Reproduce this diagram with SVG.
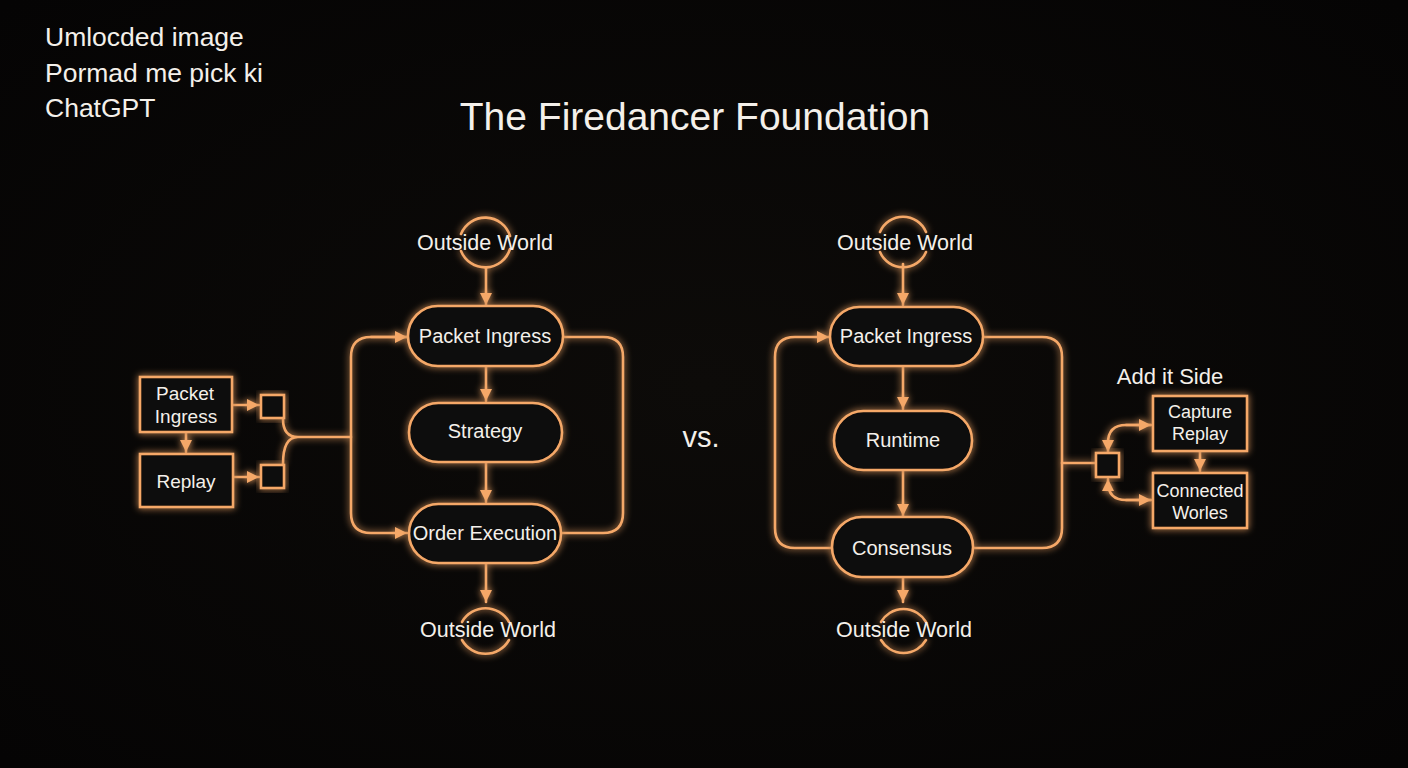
<svg xmlns="http://www.w3.org/2000/svg" width="1408" height="768" viewBox="0 0 1408 768">
  <defs>
    <style>
      .ln{fill:none;stroke:#f5a868;stroke-width:2.6;stroke-linecap:round;stroke-linejoin:round}
      .nd{fill:#0d0a08;stroke:#f5a868;stroke-width:2.6}
      .t{font-family:"Liberation Sans",Arial,sans-serif;fill:#f4f0ea;text-anchor:middle}
      .lbl{font-size:20px}
      .ow{font-size:21.5px}
      .sm{font-size:19px}
      .xs{font-size:18px}
    </style>
    <filter id="glow" x="-20%" y="-20%" width="140%" height="140%">
      <feGaussianBlur in="SourceGraphic" stdDeviation="3.5" result="b"/>
      <feMerge><feMergeNode in="b"/><feMergeNode in="SourceGraphic"/></feMerge>
    </filter>
    <marker id="ah" viewBox="0 0 10 10" refX="10" refY="5" markerWidth="12" markerHeight="12" markerUnits="userSpaceOnUse" orient="auto">
      <path d="M0,0 L10,5 L0,10 z" fill="#f5a868"/>
    </marker>
    <radialGradient id="bg" cx="50%" cy="50%" r="70%">
      <stop offset="0" stop-color="#0d0b09"/>
      <stop offset="1" stop-color="#050404"/>
    </radialGradient>
  </defs>
  <rect width="1408" height="768" fill="url(#bg)"/>

  <g id="header" class="t" style="text-anchor:start;font-size:26.5px">
    <text x="45" y="46">Umlocded image</text>
    <text x="45" y="82">Pormad me pick ki</text>
    <text x="45" y="117">ChatGPT</text>
  </g>
  <text id="title" class="t" x="695" y="130" style="font-size:39px">The Firedancer Foundation</text>
  <text id="vs" class="t" x="701" y="447" style="font-size:29px">vs.</text>
  <text id="add-side" class="t" x="1170" y="384" style="font-size:22px">Add it Side</text>

  <g id="connectors" filter="url(#glow)">
    <!-- left diagram -->
    <path class="ln" d="M486,268 L486,305" marker-end="url(#ah)"/>
    <path class="ln" d="M486,366 L486,401" marker-end="url(#ah)"/>
    <path class="ln" d="M486,462 L486,502" marker-end="url(#ah)"/>
    <path class="ln" d="M486,563 L486,602" marker-end="url(#ah)"/>
    <path class="ln" d="M407,337 L371,337 Q351,337 351,357 L351,513 Q351,533 371,533 L407,533" marker-end="url(#ah)"/>
    <path class="ln" d="M371,337 L407,337" marker-end="url(#ah)"/>
    <path class="ln" d="M563,337 L603,337 Q623,337 623,357 L623,513 Q623,533 603,533 L561,533"/>
    <path class="ln" d="M186,432 L186,452" marker-end="url(#ah)"/>
    <path class="ln" d="M233,405 L259,405" marker-end="url(#ah)"/>
    <path class="ln" d="M233,477 L259,477" marker-end="url(#ah)"/>
    <path class="ln" d="M283,419 Q283,437 298,437 M283,464 Q283,437 298,437 L351,437"/>
    <!-- right diagram -->
    <path class="ln" d="M903,264 L903,305" marker-end="url(#ah)"/>
    <path class="ln" d="M903,366 L903,409" marker-end="url(#ah)"/>
    <path class="ln" d="M903,470 L903,516" marker-end="url(#ah)"/>
    <path class="ln" d="M903,577 L903,602" marker-end="url(#ah)"/>
    <path class="ln" d="M832,548 L795,548 Q775,548 775,528 L775,357 Q775,337 795,337 L829,337" marker-end="url(#ah)"/>
    <path class="ln" d="M983,337 L1042,337 Q1062,337 1062,357 L1062,528 Q1062,548 1042,548 L973,548"/>
    <path class="ln" d="M1062,463 L1095,463"/>
    <path class="ln" d="M1151,425 L1126,425 Q1108,425 1108,443 L1108,452" marker-end="url(#ah)"/>
    <path class="ln" d="M1126,425 L1151,425" marker-end="url(#ah)"/>
    <path class="ln" d="M1151,500 L1126,500 Q1108,500 1108,482 L1108,479" marker-end="url(#ah)"/>
    <path class="ln" d="M1126,500 L1151,500" marker-end="url(#ah)"/>
    <path class="ln" d="M1200,451 L1200,471" marker-end="url(#ah)"/>
  </g>

  <!-- left diagram nodes -->
  <g id="l-outside-top">
    <path class="ln" filter="url(#glow)" d="M461,234 A26,26 0 0 1 510,236 M461,251 A26,26 0 0 0 510,249"/>
    <text class="t ow" x="485" y="250">Outside World</text>
  </g>
  <g id="l-packet-ingress">
    <rect class="nd" filter="url(#glow)" x="408" y="306" width="155" height="60" rx="30"/>
    <text class="t lbl" x="485" y="343">Packet Ingress</text>
  </g>
  <g id="l-strategy">
    <rect class="nd" filter="url(#glow)" x="409" y="403" width="153" height="59" rx="29.5"/>
    <text class="t lbl" x="485" y="438">Strategy</text>
  </g>
  <g id="l-order-execution">
    <rect class="nd" filter="url(#glow)" x="409" y="504" width="152" height="59" rx="29.5"/>
    <text class="t lbl" x="485" y="540">Order Execution</text>
  </g>
  <g id="l-outside-bottom">
    <path class="ln" filter="url(#glow)" d="M462,622 A27,27 0 0 1 509,622 M462,640 A27,27 0 0 0 509,640"/>
    <text class="t ow" x="488" y="637">Outside World</text>
  </g>
  <g id="l-packet-box">
    <rect class="nd" filter="url(#glow)" x="140" y="377" width="92" height="55"/>
    <text class="t sm" x="185" y="400">Packet</text>
    <text class="t sm" x="186" y="423">Ingress</text>
  </g>
  <g id="l-replay-box">
    <rect class="nd" filter="url(#glow)" x="140" y="454" width="93" height="53"/>
    <text class="t sm" x="186" y="488">Replay</text>
  </g>
  <g id="l-square-1">
    <rect class="nd" filter="url(#glow)" x="261" y="395" width="23" height="23"/>
  </g>
  <g id="l-square-2">
    <rect class="nd" filter="url(#glow)" x="261" y="465" width="23" height="23"/>
  </g>

  <!-- right diagram nodes -->
  <g id="r-outside-top">
    <path class="ln" filter="url(#glow)" d="M880,232 A25,25 0 0 1 926,232 M880,252 A25,25 0 0 0 926,252"/>
    <text class="t ow" x="905" y="250">Outside World</text>
  </g>
  <g id="r-packet-ingress">
    <rect class="nd" filter="url(#glow)" x="830" y="307" width="153" height="59" rx="29.5"/>
    <text class="t lbl" x="906" y="343">Packet Ingress</text>
  </g>
  <g id="r-runtime">
    <rect class="nd" filter="url(#glow)" x="834" y="411" width="138" height="59" rx="29.5"/>
    <text class="t lbl" x="903" y="447">Runtime</text>
  </g>
  <g id="r-consensus">
    <rect class="nd" filter="url(#glow)" x="832" y="517" width="141" height="60" rx="30"/>
    <text class="t lbl" x="902" y="555">Consensus</text>
  </g>
  <g id="r-outside-bottom">
    <path class="ln" filter="url(#glow)" d="M881,622 A26,26 0 0 1 926,622 M881,640 A26,26 0 0 0 926,640"/>
    <text class="t ow" x="904" y="637">Outside World</text>
  </g>
  <g id="r-square">
    <rect class="nd" filter="url(#glow)" x="1096" y="453" width="23" height="24"/>
  </g>
  <g id="r-capture-replay">
    <rect class="nd" filter="url(#glow)" x="1153" y="396" width="94" height="55"/>
    <text class="t xs" x="1200" y="418">Capture</text>
    <text class="t xs" x="1200" y="440">Replay</text>
  </g>
  <g id="r-connected-worles">
    <rect class="nd" filter="url(#glow)" x="1153" y="473" width="94" height="55"/>
    <text class="t xs" x="1200" y="497">Connected</text>
    <text class="t xs" x="1200" y="519">Worles</text>
  </g>
</svg>
